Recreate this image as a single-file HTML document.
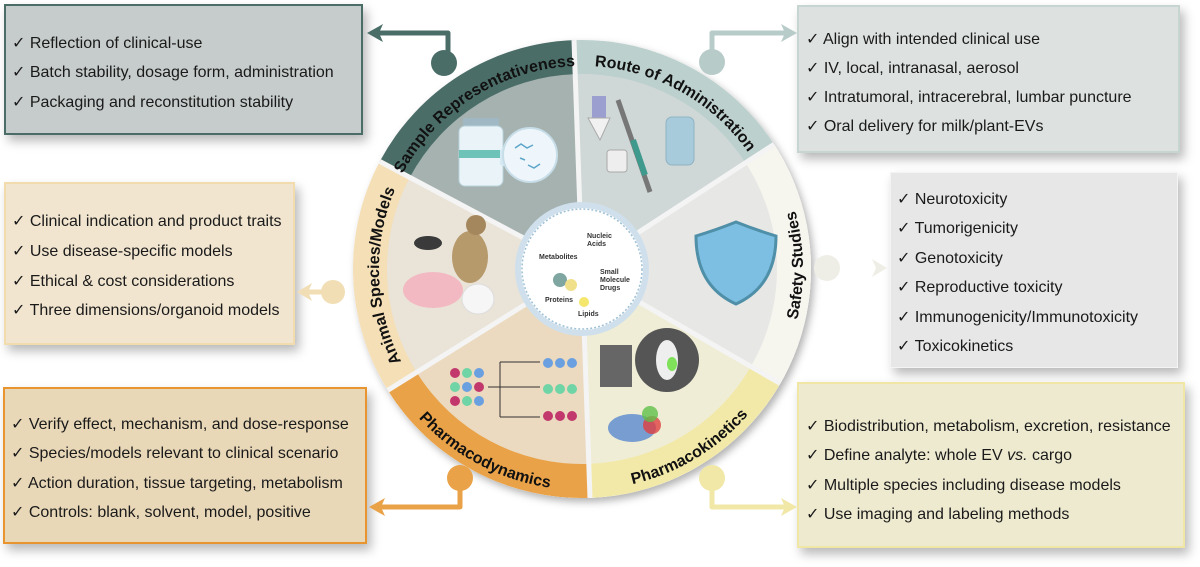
<!DOCTYPE html>
<html><head><meta charset="utf-8"><style>
body{margin:0;width:1200px;height:567px;background:#fff;position:relative;overflow:hidden;font-family:"Liberation Sans",sans-serif;}
.box{position:absolute;box-sizing:border-box;box-shadow:4px 6px 10px rgba(0,0,0,0.28);}
.box div{position:absolute;font-size:16px;color:#1a1a1a;white-space:nowrap;line-height:20px;}
svg{position:absolute;left:0;top:0;}
</style></head><body>

<div class="box" style="left:4px;top:4px;width:359px;height:131px;border:2px solid #4b6d68;background:#c6cccb;">
<div style="left:6px;top:28px">✓ Reflection of clinical-use</div>
<div style="left:6px;top:57px">✓ Batch stability, dosage form, administration</div>
<div style="left:6px;top:87px">✓ Packaging and reconstitution stability</div>
</div>

<div class="box" style="left:4px;top:182px;width:291px;height:163px;border:2px solid #f2dcae;background:#f1e5cf;">
<div style="left:6px;top:28px">✓ Clinical indication and product traits</div>
<div style="left:6px;top:58px">✓ Use disease-specific models</div>
<div style="left:6px;top:88px">✓ Ethical &amp; cost considerations</div>
<div style="left:6px;top:117px">✓ Three dimensions/organoid models</div>
</div>

<div class="box" style="left:3px;top:387px;width:364px;height:157px;border:2px solid #e8952f;background:#e9d8b8;">
<div style="left:6px;top:26px">✓ Verify effect, mechanism, and dose-response</div>
<div style="left:6px;top:55px">✓ Species/models relevant to clinical scenario</div>
<div style="left:6px;top:85px">✓ Action duration, tissue targeting, metabolism</div>
<div style="left:6px;top:114px">✓ Controls: blank, solvent, model, positive</div>
</div>

<div class="box" style="left:797px;top:5px;width:383px;height:148px;border:2px solid #c6d4d2;background:#dde1e0;">
<div style="left:7px;top:23px">✓ Align with intended clinical use</div>
<div style="left:7px;top:52px">✓ IV, local, intranasal, aerosol</div>
<div style="left:7px;top:81px">✓ Intratumoral, intracerebral, lumbar puncture</div>
<div style="left:7px;top:110px">✓ Oral delivery for milk/plant-EVs</div>
</div>

<div class="box" style="left:890px;top:172px;width:288px;height:196px;border:1px solid #f4f4f2;background:#e6e7e6;">
<div style="left:6px;top:17px">✓ Neurotoxicity</div>
<div style="left:6px;top:46px">✓ Tumorigenicity</div>
<div style="left:6px;top:76px">✓ Genotoxicity</div>
<div style="left:6px;top:105px">✓ Reproductive toxicity</div>
<div style="left:6px;top:135px">✓ Immunogenicity/Immunotoxicity</div>
<div style="left:6px;top:164px">✓ Toxicokinetics</div>
</div>

<div class="box" style="left:797px;top:382px;width:388px;height:166px;border:2px solid #f1e7a4;background:#eeead0;">
<div style="left:7px;top:33px">✓ Biodistribution, metabolism, excretion, resistance</div>
<div style="left:7px;top:62px">✓ Define analyte: whole EV <i>vs.</i> cargo</div>
<div style="left:7px;top:92px">✓ Multiple species including disease models</div>
<div style="left:7px;top:121px">✓ Use imaging and labeling methods</div>
</div>

<svg width="1200" height="567" viewBox="0 0 1200 567">
<defs>
<filter id="sh" x="-20%" y="-20%" width="140%" height="140%"><feDropShadow dx="3" dy="4" stdDeviation="4" flood-color="#000" flood-opacity="0.3"/></filter>
<path id="tSample" d="M399.5,180 A203,203 0 0 1 582,66"/>
<path id="tRoute" d="M582,66 A203,203 0 0 1 755,163"/>
<path id="tAnimal" d="M406.2,370.5 A203,203 0 0 1 399.5,180"/>
<path id="tSafety" d="M777.1,372.8 A221,221 0 0 0 773.4,158.5"/>
<path id="tPD" d="M398.8,392.6 A221,221 0 0 0 582,490"/>
<path id="tPK" d="M597.4,489.5 A221,221 0 0 0 769.4,386.1"/>
</defs>

<g stroke-width="5" fill="none" stroke-linejoin="round">
<path d="M448,63 V33 H378" stroke="#4b6d68"/>
<path d="M712,62 V33 H786" stroke="#b7cbc8"/>
<path d="M333,292 H306" stroke="#f2deb5"/>
<path d="M827,268 H878" stroke="#efeee6" filter="url(#sh)"/>
<path d="M460,478 V507 H380" stroke="#e9a248"/>
<path d="M712,478 V507 H786" stroke="#f1e7a6"/>
</g>
<polygon points="367,33 383,24 379,33 383,42" fill="#4b6d68"/>
<polygon points="797,33 781,24 785,33 781,42" fill="#b7cbc8"/>
<polygon points="297,292 312,283 308,292 312,301" fill="#f2deb5"/>
<polygon points="887,268 872,259 876,268 872,277" fill="#efeee6"/>
<polygon points="369,507 385,498 381,507 385,516" fill="#e9a248"/>
<polygon points="797,507 781,498 785,507 781,516" fill="#f1e7a6"/>

<g filter="url(#sh)">
<circle cx="582" cy="269" r="229" fill="#fff"/>
</g>
<path d="M582,269 L379.8,161.5 A229,229 0 0 1 574,40.1 Z" fill="#4b6d68"/>
<path d="M582,269 L574,40.1 A229,229 0 0 1 774.1,144.3 Z" fill="#bcd0cd"/>
<path d="M582,269 L774.1,144.3 A229,229 0 0 1 780.3,383.5 Z" fill="#f6f5ee"/>
<path d="M582,269 L780.3,383.5 A229,229 0 0 1 590,497.9 Z" fill="#f2e9a8"/>
<path d="M582,269 L590,497.9 A229,229 0 0 1 387.8,390.3 Z" fill="#e9a248"/>
<path d="M582,269 L387.8,390.3 A229,229 0 0 1 379.8,161.5 Z" fill="#f4dfb6"/>

<path d="M582,269 L409.8,177.4 A195,195 0 0 1 575.2,74.1 Z" fill="#a5b2b0"/>
<path d="M582,269 L575.2,74.1 A195,195 0 0 1 745.5,162.8 Z" fill="#cfd8d7"/>
<path d="M582,269 L745.5,162.8 A195,195 0 0 1 750.9,366.5 Z" fill="#e7e7e5"/>
<path d="M582,269 L750.9,366.5 A195,195 0 0 1 588.8,463.9 Z" fill="#efedd5"/>
<path d="M582,269 L588.8,463.9 A195,195 0 0 1 416.6,372.3 Z" fill="#ebdabf"/>
<path d="M582,269 L416.6,372.3 A195,195 0 0 1 409.8,177.4 Z" fill="#eae3d7"/>

<g stroke="#f4f4f4" stroke-width="5">
<line x1="582" y1="269" x2="574" y2="40.1"/>
<line x1="582" y1="269" x2="774.1" y2="144.3"/>
<line x1="582" y1="269" x2="780.3" y2="383.5"/>
<line x1="582" y1="269" x2="590" y2="497.9"/>
<line x1="582" y1="269" x2="387.8" y2="390.3"/>
<line x1="582" y1="269" x2="379.8" y2="161.5"/>
</g>

<g font-family="Liberation Sans, sans-serif" font-weight="bold" font-size="16" fill="#111">
<text><textPath href="#tSample" startOffset="50%" text-anchor="middle">Sample Representativeness</textPath></text>
<text><textPath href="#tRoute" startOffset="50%" text-anchor="middle">Route of Administration</textPath></text>
<text><textPath href="#tAnimal" startOffset="50%" text-anchor="middle">Animal Species/Models</textPath></text>
<text><textPath href="#tSafety" startOffset="50%" text-anchor="middle">Safety Studies</textPath></text>
<text><textPath href="#tPD" startOffset="50%" text-anchor="middle">Pharmacodynamics</textPath></text>
<text><textPath href="#tPK" startOffset="50%" text-anchor="middle">Pharmacokinetics</textPath></text>
</g>

<rect x="463" y="118" width="36" height="8" rx="2" fill="#9fb8c4"/>
<rect x="459" y="126" width="44" height="60" rx="6" fill="#eaf4f8" stroke="#b9d3dc"/>
<rect x="459" y="150" width="44" height="8" fill="#6ec3b8"/>
<polygon points="500,150 520,140 520,170 500,165" fill="#d5eaf2"/>
<circle cx="530" cy="155" r="27" fill="#eef6fb" stroke="#c7dde8" stroke-width="2"/>
<g fill="none" stroke="#5da5c9" stroke-width="1.5"><path d="M515,148 l6,-4 l6,4 l6,-3"/><path d="M528,165 l6,3 l6,-4"/><path d="M520,158 l5,2"/></g>
<rect x="592" y="96" width="14" height="22" fill="#9a9fd0"/>
<polygon points="588,118 610,118 600,140" fill="#f1f1f1" stroke="#aaa"/>
<line x1="618" y1="100" x2="650" y2="192" stroke="#777" stroke-width="5"/>
<line x1="633" y1="140" x2="645" y2="175" stroke="#3f9a8e" stroke-width="6"/>
<rect x="666" y="117" width="28" height="48" rx="6" fill="#a8cbdb" stroke="#8fb3c3"/>
<rect x="607" y="150" width="20" height="22" rx="3" fill="#eee" stroke="#aaa"/>
<path d="M696,236 q20,-6 40,-14 q20,8 40,14 q0,50 -40,68 q-40,-18 -40,-68 z" fill="#7cbfe2" stroke="#4f8fa8" stroke-width="3"/>
<ellipse cx="428" cy="243" rx="14" ry="7" fill="#3a3a3a"/>
<ellipse cx="470" cy="257" rx="18" ry="26" fill="#b79a6c"/>
<circle cx="476" cy="225" r="10" fill="#a4875d"/>
<ellipse cx="433" cy="290" rx="30" ry="18" fill="#f2b9c3"/>
<ellipse cx="478" cy="299" rx="16" ry="15" fill="#f6f6f6" stroke="#ddd"/>
<g>
<circle cx="455" cy="373" r="5" fill="#c2386c"/><circle cx="467" cy="373" r="5" fill="#6fd4a6"/><circle cx="479" cy="373" r="5" fill="#6aa0e0"/>
<circle cx="455" cy="387" r="5" fill="#6fd4a6"/><circle cx="467" cy="387" r="5" fill="#6aa0e0"/><circle cx="479" cy="387" r="5" fill="#c2386c"/>
<circle cx="455" cy="401" r="5" fill="#c2386c"/><circle cx="467" cy="401" r="5" fill="#6fd4a6"/><circle cx="479" cy="401" r="5" fill="#6aa0e0"/>
<path d="M488,387 H500 M500,362 V417 M500,362 H540 M500,387 H540 M500,417 H540" stroke="#333" fill="none"/>
<circle cx="548" cy="363" r="5" fill="#6aa0e0"/><circle cx="560" cy="363" r="5" fill="#6aa0e0"/><circle cx="572" cy="363" r="5" fill="#6aa0e0"/>
<circle cx="548" cy="389" r="5" fill="#6fd4a6"/><circle cx="560" cy="389" r="5" fill="#6fd4a6"/><circle cx="572" cy="389" r="5" fill="#6fd4a6"/>
<circle cx="548" cy="416" r="5" fill="#c2386c"/><circle cx="560" cy="416" r="5" fill="#c2386c"/><circle cx="572" cy="416" r="5" fill="#c2386c"/>
</g>
<rect x="600" y="345" width="32" height="42" fill="#666"/>
<circle cx="667" cy="360" r="32" fill="#555"/>
<ellipse cx="667" cy="360" rx="11" ry="20" fill="#eee"/>
<ellipse cx="672" cy="364" rx="5" ry="7" fill="#7fe05a"/>
<ellipse cx="632" cy="428" rx="24" ry="14" fill="#5a88d0" opacity="0.8"/>
<circle cx="652" cy="425" r="9" fill="#e04040" opacity="0.8"/>
<circle cx="650" cy="414" r="8" fill="#5fbf4a" opacity="0.8"/>

<circle cx="582" cy="269" r="64" fill="#fff" stroke="#cfe0ec" stroke-width="6"/>
<circle cx="582" cy="269" r="60" fill="#fff" stroke="#9fc1d6" stroke-width="1.5" stroke-dasharray="2 2"/>
<g font-family="Liberation Sans, sans-serif" font-weight="bold" font-size="7" fill="#333">
<text x="539" y="259">Metabolites</text>
<text x="587" y="238">Nucleic</text><text x="587" y="246">Acids</text>
<text x="600" y="274">Small</text><text x="600" y="282">Molecule</text><text x="600" y="290">Drugs</text>
<text x="545" y="302">Proteins</text>
<text x="578" y="316">Lipids</text>
</g>
<circle cx="560" cy="280" r="7" fill="#7fa6a0"/><circle cx="571" cy="285" r="6" fill="#f0e08a"/><circle cx="584" cy="302" r="5" fill="#f5e66e"/>
<circle cx="444" cy="63" r="13" fill="#4b6d68"/>
<circle cx="712" cy="62" r="13" fill="#b7cbc8"/>
<circle cx="333" cy="292" r="12" fill="#f2deb5"/>
<circle cx="827" cy="268" r="13" fill="#efeee6"/>
<circle cx="460" cy="478" r="13" fill="#e9a248"/>
<circle cx="712" cy="478" r="13" fill="#f1e7a6"/>
</svg>
</body></html>
